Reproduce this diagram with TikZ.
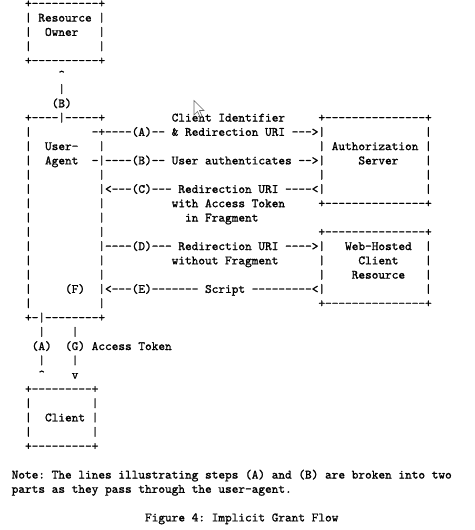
\documentclass[tikz,border=0pt]{standalone}
\usepackage{fontspec}
\setmonofont{lmmono10-regular.otf}[FakeBold=1.2]
\frenchspacing
\tikzset{
  txt/.style={inner sep=0pt, outer sep=0pt, anchor=base west,
    font=\ttfamily\fontsize{12.7}{14.28}\selectfont, text=black},
  cursorshape/.style={draw=black!60, fill=white, line width=0.6pt, line join=miter}
}
% \rowtxt{line}{column}{text}
\newcommand\rowtxt[3]{\node[txt] (r#1c#2) at ({11.7+6.6675*#2},{7.3+14.28*#1}) {#3};}
\begin{document}
\begin{tikzpicture}[x=1pt,y=-1pt]
\useasboundingbox (0,0) rectangle (474,530);
\fill[white] (0,0) rectangle (474,530);
% Resource Owner
\rowtxt{0}{2}{+----------+}
\rowtxt{1}{2}{| Resource |}
\rowtxt{2}{2}{|}\rowtxt{2}{5}{Owner}\rowtxt{2}{13}{|}
\rowtxt{3}{2}{|}\rowtxt{3}{13}{|}
\rowtxt{4}{2}{+----------+}
\rowtxt{5}{7}{\textasciicircum}
\rowtxt{6}{7}{|}
\rowtxt{7}{6}{(B)}
% User-Agent and Authorization Server
\rowtxt{8}{2}{+----|-----+}\rowtxt{8}{24}{Client Identifier}\rowtxt{8}{46}{+---------------+}
\rowtxt{9}{2}{|}\rowtxt{9}{12}{-+----(A)-- \& Redirection URI --->|}\rowtxt{9}{62}{|}
\rowtxt{10}{2}{|}\rowtxt{10}{5}{User-}\rowtxt{10}{13}{|}\rowtxt{10}{46}{| Authorization |}
\rowtxt{11}{2}{|}\rowtxt{11}{5}{Agent}\rowtxt{11}{12}{-|----(B)-- User authenticates -->|}\rowtxt{11}{52}{Server}\rowtxt{11}{62}{|}
\rowtxt{12}{2}{|}\rowtxt{12}{13}{|}\rowtxt{12}{46}{|}\rowtxt{12}{62}{|}
\rowtxt{13}{2}{|}\rowtxt{13}{13}{|<---(C)--- Redirection URI ----<|}\rowtxt{13}{62}{|}
\rowtxt{14}{2}{|}\rowtxt{14}{13}{|}\rowtxt{14}{24}{with Access Token}\rowtxt{14}{46}{+---------------+}
\rowtxt{15}{2}{|}\rowtxt{15}{13}{|}\rowtxt{15}{26}{in Fragment}
% Web-Hosted Client Resource
\rowtxt{16}{2}{|}\rowtxt{16}{13}{|}\rowtxt{16}{46}{+---------------+}
\rowtxt{17}{2}{|}\rowtxt{17}{13}{|----(D)--- Redirection URI ---->|}\rowtxt{17}{50}{Web-Hosted}\rowtxt{17}{62}{|}
\rowtxt{18}{2}{|}\rowtxt{18}{13}{|}\rowtxt{18}{24}{without Fragment}\rowtxt{18}{46}{|}\rowtxt{18}{52}{Client}\rowtxt{18}{62}{|}
\rowtxt{19}{2}{|}\rowtxt{19}{13}{|}\rowtxt{19}{46}{|}\rowtxt{19}{51}{Resource}\rowtxt{19}{62}{|}
\rowtxt{20}{2}{|}\rowtxt{20}{8}{(F)}\rowtxt{20}{13}{|<---(E)------- Script ---------<|}\rowtxt{20}{62}{|}
\rowtxt{21}{2}{|}\rowtxt{21}{13}{|}\rowtxt{21}{46}{+---------------+}
\rowtxt{22}{2}{+-|--------+}
% to Client
\rowtxt{23}{4}{|}\rowtxt{23}{9}{|}
\rowtxt{24}{3}{(A)}\rowtxt{24}{8}{(G) Access Token}
\rowtxt{25}{4}{|}\rowtxt{25}{9}{|}
\rowtxt{26}{4}{\textasciicircum}\rowtxt{26}{9}{v}
\rowtxt{27}{2}{+---------+}
\rowtxt{28}{2}{|}\rowtxt{28}{12}{|}
\rowtxt{29}{2}{|}\rowtxt{29}{5}{Client |}
\rowtxt{30}{2}{|}\rowtxt{30}{12}{|}
\rowtxt{31}{2}{+---------+}
% Note and caption
\rowtxt{33}{0}{Note: The lines illustrating steps (A) and (B) are broken into two}
\rowtxt{34}{0}{parts as they pass through the user-agent.}
\rowtxt{36}{20}{Figure 4: Implicit Grant Flow}
% mouse cursor
\draw[cursorshape] (194,100.5) -- (194,115) -- (197.5,111.5) -- (200,117) -- (202,116) -- (199.5,110.5) -- (204,110.5) -- cycle;
\end{tikzpicture}
\end{document}
